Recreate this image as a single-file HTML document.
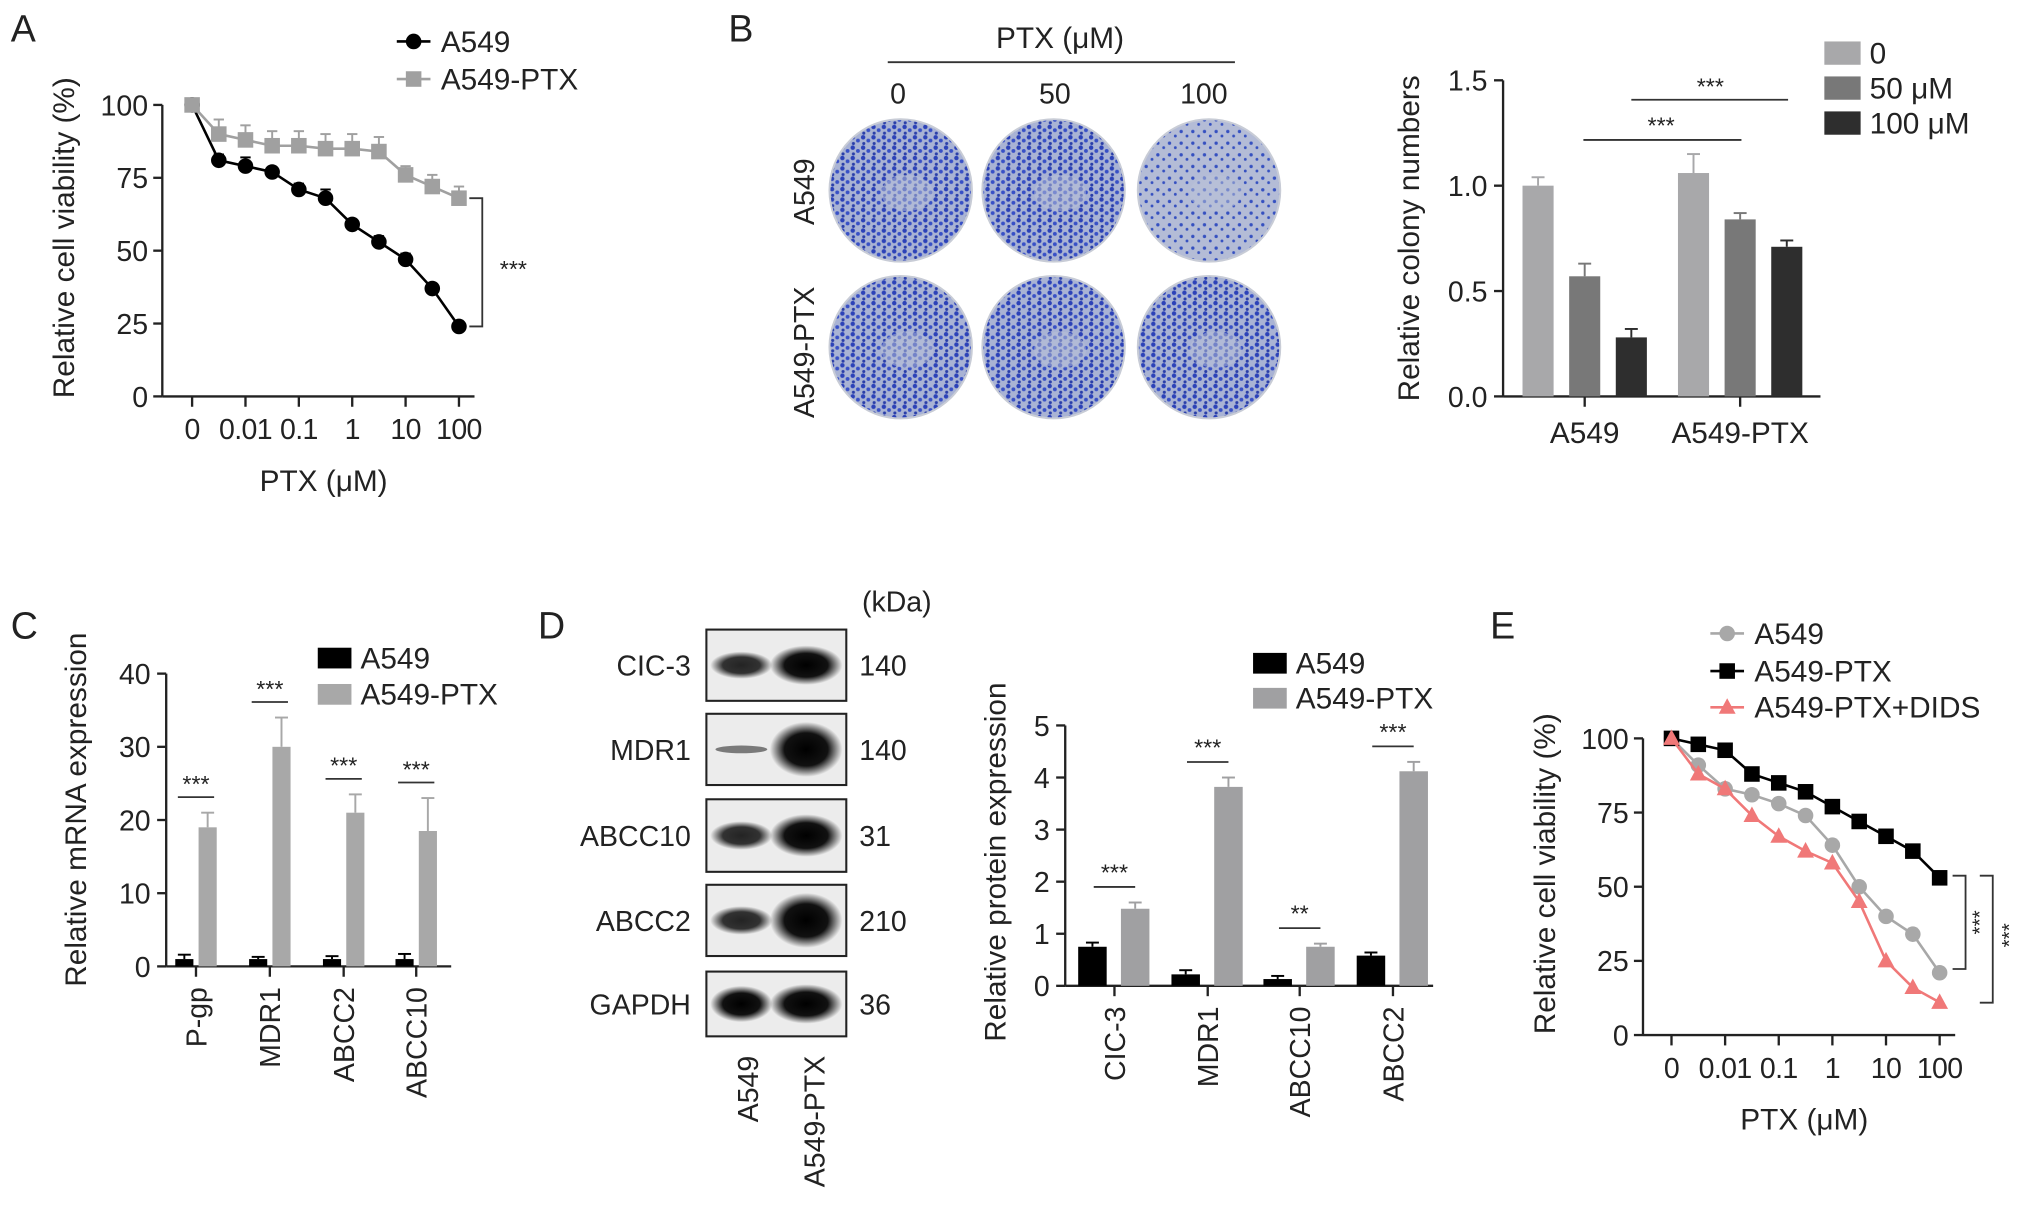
<!DOCTYPE html>
<html><head><meta charset="utf-8">
<style>
html,body{margin:0;padding:0;background:#fff;}
svg{display:block;font-family:"Liberation Sans",Arial,sans-serif;}
</style></head>
<body>
<svg id="fig" width="2032" height="1219" viewBox="0 0 1568 941" xmlns="http://www.w3.org/2000/svg">
<defs>
<pattern id="dots" width="8" height="8" patternUnits="userSpaceOnUse">
<rect width="8" height="8" fill="#a9b3d4"/>
<circle cx="2" cy="2" r="1.7" fill="#2c42b8"/>
<circle cx="6" cy="4.5" r="1.5" fill="#3850c6"/>
<circle cx="2.5" cy="6.8" r="1.2" fill="#2a3ea8"/>
</pattern>
<pattern id="dots2" width="9" height="9" patternUnits="userSpaceOnUse">
<rect width="9" height="9" fill="#b4bcd6"/>
<circle cx="2.5" cy="2.5" r="1.3" fill="#3550c0"/>
<circle cx="7" cy="6" r="1.1" fill="#3550c0"/>
</pattern>
<radialGradient id="band"><stop offset="0" stop-color="#000"/><stop offset="0.6" stop-color="#111"/><stop offset="1" stop-color="#111" stop-opacity="0"/></radialGradient>
</defs>
<g id="root"></g>
</svg>
<script>
// ---- Panel A data ----
const aCats = ['0','','0.01','','0.1','','1','','10','','100'];
const aA549 = [100,81,79,77,71,68,59,53,47,37,24];
const aA549Err = [0,2,3,1,2,3,1,2,2,1,1];
const aPTX = [100,90,88,86,86,85,85,84,76,72,68];
const aPTXErr = [0,5,5,5,5,5,5,5,3,4,4];
// ---- Panel B data ----
const bGroups = ['A549','A549-PTX'];
const bSeries = ['0','50 μM','100 μM'];
const b0 = [1.0,1.06];
const b50 = [0.57,0.84];
const b100 = [0.28,0.71];
const b0Err = [0.04,0.09];
const b50Err = [0.06,0.03];
const b100Err = [0.04,0.03];
const bTicks = [0,0.5,1.0,1.5];
// ---- Panel C data ----
const cCats = ['P-gp','MDR1','ABCC2','ABCC10'];
const cA549 = [1,1,1,1];
const cA549Err = [0.6,0.3,0.4,0.7];
const cPTX = [19,30,21,18.5];
const cPTXErr = [2,4,2.5,4.5];
const cTicks = [0,10,20,30,40];
// ---- Panel D data ----
const dCats = ['CIC-3','MDR1','ABCC10','ABCC2'];
const dA549 = [0.75,0.22,0.13,0.58];
const dA549Err = [0.08,0.08,0.06,0.06];
const dPTX = [1.48,3.82,0.75,4.12];
const dPTXErr = [0.12,0.18,0.06,0.18];
const dSig = ['***','***','**','***'];
const dTicks = [0,1,2,3,4,5];
// ---- Panel E data ----
const eCats = ['0','','0.01','','0.1','','1','','10','','100'];
const eA549 = [100,91,83,81,78,74,64,50,40,34,21];
const ePTX = [100,98,96,88,85,82,77,72,67,62,53];
const eDIDS = [100,88,83,74,67,62,58,45,25,16,11];
const pctTicks = [0,25,50,75,100];

const NS='http://www.w3.org/2000/svg';
const root=document.getElementById('root');
function el(tag,attrs,parent,txt){const e=document.createElementNS(NS,tag);for(const k in attrs)e.setAttribute(k,attrs[k]);if(txt!==undefined)e.textContent=txt;(parent||root).appendChild(e);return e;}
function line(x1,y1,x2,y2,c,w,p){return el('line',{x1,y1,x2,y2,stroke:c||'#222','stroke-width':w||1.6},p);}
function txt(x,y,s,size,anchor,p,extra){const t=el('text',Object.assign({x,y,'font-size':size,'text-anchor':anchor||'start',fill:'#222'},extra||{}),p,s);return t;}

[['A',8,32],['B',562,32],['C',8,493],['D',415,493],['E',1150,493]].forEach(([s,x,y])=>{const t=txt(x,y,s,29,'start');});

function lineChart(cfg){
  const g=el('g',{});
  const yS=v=>cfg.y0-(v/100)*(cfg.y0-cfg.y100);
  const xS=i=>cfg.x0+i*(cfg.x1-cfg.x0)/(cfg.cats.length-1);
  const ax=el('g',{},g);
  line(cfg.ax,cfg.y100,cfg.ax,cfg.y0,'#222',1.8,ax);
  pctTicks.forEach(v=>{line(cfg.ax-7,yS(v),cfg.ax,yS(v),'#222',1.8,ax);txt(cfg.ax-11,yS(v)+8,String(v),22,'end',ax);});
  const xa=el('g',{},g);
  line(cfg.ax,cfg.y0,cfg.x1+12,cfg.y0,'#222',1.8,xa);
  cfg.cats.forEach((c,i)=>{if(i%2===0){line(xS(i),cfg.y0,xS(i),cfg.y0+8,'#222',1.8,xa);txt(xS(i),cfg.y0+33,c,22,'middle',xa,{'letter-spacing':'-0.5'});}});
  const xt=txt((cfg.ax+cfg.x1)/2+10,cfg.y0+73,'PTX (μM)',23,'middle',g);
  const yt=txt(0,0,'Relative cell viability (%)',23,'middle',g,{transform:`translate(${cfg.ax-68},${(cfg.y0+cfg.y100)/2-10}) rotate(-90)`});
  cfg.series.forEach(s=>{
    const sg=el('g',{},g);
    if(s.err) s.vals.forEach((v,i)=>{if(s.err[i]){line(xS(i),yS(v),xS(i),yS(v+s.err[i]),s.color,1.5,sg);line(xS(i)-4,yS(v+s.err[i]),xS(i)+4,yS(v+s.err[i]),s.color,1.5,sg);}});
    el('polyline',{points:s.vals.map((v,i)=>xS(i)+','+yS(v)).join(' '),fill:'none',stroke:s.color,'stroke-width':2},sg);
    s.vals.forEach((v,i)=>{let m;
      if(s.shape==='c')m=el('circle',{cx:xS(i),cy:yS(v),r:6,fill:s.color},sg);
      else if(s.shape==='s')m=el('rect',{x:xS(i)-6,y:yS(v)-6,width:12,height:12,fill:s.color},sg);
      else m=el('polygon',{points:`${xS(i)},${yS(v)-7} ${xS(i)-6.5},${yS(v)+5} ${xS(i)+6.5},${yS(v)+5}`,fill:s.color},sg);
      });
    const lg=el('g',{},g);
    line(s.lx,s.ly,s.lx+26,s.ly,s.color,2,lg);
    if(s.shape==='c')el('circle',{cx:s.lx+13,cy:s.ly,r:6,fill:s.color},lg);
    else if(s.shape==='s')el('rect',{x:s.lx+7,y:s.ly-6,width:12,height:12,fill:s.color},lg);
    else el('polygon',{points:`${s.lx+13},${s.ly-7} ${s.lx+6.5},${s.ly+5} ${s.lx+19.5},${s.ly+5}`,fill:s.color},lg);
    txt(s.lx+34,s.ly+8,s.label,23,'start',lg);
  });
  return {g,xS,yS};
}

const A=lineChart({name:'panel-a-chart',cats:aCats,x0:148,x1:354,ax:125,y0:306,y100:81,series:[
 {key:'a549',label:'A549',vals:aA549,err:aA549Err,color:'#000',shape:'c',lx:306,ly:32},
 {key:'a549-ptx',label:'A549-PTX',vals:aPTX,err:aPTXErr,color:'#a0a0a0',shape:'s',lx:306,ly:61}]});
el('polyline',{points:`362,153 372,153 372,252 362,252`,fill:'none',stroke:'#333','stroke-width':1.4},A.g);
txt(396,214,'***',18,'middle',A.g);

const E=lineChart({name:'panel-e-chart',cats:eCats,x0:1290,x1:1497,ax:1268,y0:799,y100:570,series:[
 {key:'a549',label:'A549',vals:eA549,color:'#a8a8a8',shape:'c',lx:1320,ly:489},
 {key:'a549-ptx',label:'A549-PTX',vals:ePTX,color:'#000',shape:'s',lx:1320,ly:518},
 {key:'a549-ptx-dids',label:'A549-PTX+DIDS',vals:eDIDS,color:'#f07878',shape:'t',lx:1320,ly:546}]});
el('polyline',{points:`1507,676 1517,676 1517,748 1507,748`,fill:'none',stroke:'#333','stroke-width':1.4},E.g);
el('polyline',{points:`1528,676 1538,676 1538,774 1528,774`,fill:'none',stroke:'#333','stroke-width':1.4},E.g);
txt(0,0,'***',16,'middle',E.g,{transform:'translate(1533,712) rotate(-90)'});
txt(0,0,'***',16,'middle',E.g,{transform:'translate(1556,722) rotate(-90)'});

const bc=el('g',{});
txt(818,37,'PTX (μM)',23,'middle',bc);line(685,48,953,48,'#333',1.4,bc);
[['0',693],['50',814],['100',929]].forEach(([s,x])=>txt(x,80,s,22,'middle',bc));
txt(0,0,'A549',22,'middle',bc,{transform:'translate(628,148) rotate(-90)'});
txt(0,0,'A549-PTX',22,'middle',bc,{transform:'translate(628,272) rotate(-90)'});
[[695,147],[813,147],[933,147],[695,268],[813,268],[933,268]].forEach(([x,y],i)=>{
  const c=el('circle',{cx:x,cy:y,r:55,fill:(i===2?'url(#dots2)':'url(#dots)'),stroke:'#c8ccd6','stroke-width':1.5},bc);
  
  el('ellipse',{cx:x+5,cy:y+2,rx:20,ry:14,fill:'#b9c1d7',opacity:0.5},bc);
});

function errBar(g,x,yTop,yErr,c){line(x,yTop,x,yErr,c,1.5,g);line(x-5,yErr,x+5,yErr,c,1.5,g);}

(function(){
  const g=el('g',{});
  const y0=306,yTop=62,max=1.5,ax=1160;const yS=v=>y0-v/max*(y0-yTop);
  line(ax,yTop,ax,y0,'#222',1.8,g);line(ax,y0,1405,y0,'#222',1.8,g);
  bTicks.forEach(v=>{line(ax-7,yS(v),ax,yS(v),'#222',1.8,g);txt(ax-12,yS(v)+8,v.toFixed(1),22,'end',g);});
  const yt=txt(0,0,'Relative colony numbers',23,'middle',g,{transform:`translate(1095,${(y0+yTop)/2}) rotate(-90)`});
  const gc=[1223,1343],off=[-36,0,36],cols=['#a8a8aa','#787878','#2e2e2e'];
  const vals=[b0,b50,b100],errs=[b0Err,b50Err,b100Err];
  bGroups.forEach((gn,gi)=>{line(gc[gi],y0,gc[gi],y0+8,'#222',1.8,g);txt(gc[gi],y0+36,gn,23,'middle',g);
    vals.forEach((arr,si)=>{const x=gc[gi]+off[si];const r=el('rect',{x:x-12,y:yS(arr[gi]),width:24,height:y0-yS(arr[gi]),fill:cols[si]},g);
      
      errBar(g,x,yS(arr[gi]),yS(arr[gi]+errs[si][gi]),cols[si]);});});
  line(1222,108,1344,108,'#333',1.4,g);txt(1282,103,'***',18,'middle',g);
  line(1259,77,1380,77,'#333',1.4,g);txt(1320,73,'***',18,'middle',g);
  bSeries.forEach((s,i)=>{const lg=el('g',{},g);
    el('rect',{x:1408,y:32+i*27,width:28,height:18,fill:cols[i]},lg);txt(1443,49+i*27,s,23,'start',lg);});
})();

(function(){
  const g=el('g',{});
  const y0=746,yTop=520,max=40,ax=128;const yS=v=>y0-v/max*(y0-yTop);
  line(ax,yTop,ax,y0,'#222',1.8,g);line(ax,y0,348,y0,'#222',1.8,g);
  cTicks.forEach(v=>{line(ax-7,yS(v),ax,yS(v),'#222',1.8,g);txt(ax-12,yS(v)+8,String(v),22,'end',g);});
  const yt=txt(0,0,'Relative mRNA expression',23,'middle',g,{transform:`translate(66,${(y0+yTop)/2-8}) rotate(-90)`});
  const cx=[151,208,265,321];
  cCats.forEach((c,i)=>{const x=cx[i];line(x,y0,x,y0+8,'#222',1.8,g);
    txt(0,0,c,22,'end',g,{transform:`translate(${x+8},${y0+16}) rotate(-90)`});
    const r1=el('rect',{x:x-16,y:yS(cA549[i]),width:14,height:y0-yS(cA549[i]),fill:'#000'},g);
    errBar(g,x-9,yS(cA549[i]),yS(cA549[i]+cA549Err[i]),'#000');
    const r2=el('rect',{x:x+2,y:yS(cPTX[i]),width:14,height:y0-yS(cPTX[i]),fill:'#a8a8a8'},g);
    errBar(g,x+9,yS(cPTX[i]),yS(cPTX[i]+cPTXErr[i]),'#a8a8a8');
    const sy=yS(cPTX[i]+cPTXErr[i])-12;line(x-14,sy,x+14,sy,'#333',1.4,g);txt(x,sy-4,'***',18,'middle',g);});
  [['A549','#000'],['A549-PTX','#a8a8a8']].forEach(([s,c],i)=>{const lg=el('g',{},g);
    el('rect',{x:245,y:500+i*28,width:26,height:16,fill:c},lg);txt(278,516+i*28,s,23,'start',lg);});
})();

(function(){
  const g=el('g',{});
  txt(692,472,'(kDa)',22,'middle',g);
  const rows=[['CIC-3',486,541,'140',[0.75,1.1]],['MDR1',551,606,'140',[0.3,1.6]],['ABCC10',617,673,'31',[0.8,1.2]],['ABCC2',683,738,'210',[0.8,1.6]],['GAPDH',750,800,'36',[1.1,1.1]]];
  rows.forEach(([n,y1,y2,kd,w])=>{const r=el('rect',{x:545,y:y1,width:108,height:y2-y1,fill:'#ececec',stroke:'#222','stroke-width':1.6},g);
    
    const cy=(y1+y2)/2;
    el('ellipse',{cx:572,cy,rx:n==='MDR1'?20:24,ry:n==='MDR1'?3:10*w[0]+3,fill:n==='MDR1'?'#666':'url(#band)',opacity:n==='GAPDH'?1:0.85},g);
    el('ellipse',{cx:622,cy,rx:28,ry:Math.min(12*w[1]+2,26),fill:'url(#band)'},g);
    txt(533,cy+8,n,22,'end',g);txt(663,cy+8,kd,22,'start',g);});
  txt(0,0,'A549',22,'end',g,{transform:'translate(585,815) rotate(-90)'});
  txt(0,0,'A549-PTX',22,'end',g,{transform:'translate(636,815) rotate(-90)'});
})();

(function(){
  const g=el('g',{});
  const y0=761,yTop=560,max=5,ax=822;const yS=v=>y0-v/max*(y0-yTop);
  line(ax,yTop,ax,y0,'#222',1.8,g);line(ax,y0,1106,y0,'#222',1.8,g);
  dTicks.forEach(v=>{line(ax-7,yS(v),ax,yS(v),'#222',1.8,g);txt(ax-12,yS(v)+8,String(v),22,'end',g);});
  const yt=txt(0,0,'Relative protein expression',23,'middle',g,{transform:`translate(776,${(y0+yTop)/2+5}) rotate(-90)`});
  const cx=[860,932,1003,1075];
  dCats.forEach((c,i)=>{const x=cx[i];line(x,y0,x,y0+8,'#222',1.8,g);
    txt(0,0,c,22,'end',g,{transform:`translate(${x+8},${y0+16}) rotate(-90)`});
    const r1=el('rect',{x:x-28,y:yS(dA549[i]),width:22,height:y0-yS(dA549[i]),fill:'#000'},g);
    errBar(g,x-17,yS(dA549[i]),yS(dA549[i]+dA549Err[i]),'#000');
    const r2=el('rect',{x:x+5,y:yS(dPTX[i]),width:22,height:y0-yS(dPTX[i]),fill:'#a0a0a2'},g);
    errBar(g,x+16,yS(dPTX[i]),yS(dPTX[i]+dPTXErr[i]),'#a0a0a2');
    const sy=yS(dPTX[i]+dPTXErr[i])-12;line(x-16,sy,x+16,sy,'#333',1.4,g);txt(x,sy-5,dSig[i],18,'middle',g);});
  [['A549','#000'],['A549-PTX','#a0a0a2']].forEach(([s,c],i)=>{const lg=el('g',{},g);
    el('rect',{x:967,y:504+i*27,width:26,height:16,fill:c},lg);txt(1000,520+i*27,s,23,'start',lg);});
})();
</script>
</body></html>
